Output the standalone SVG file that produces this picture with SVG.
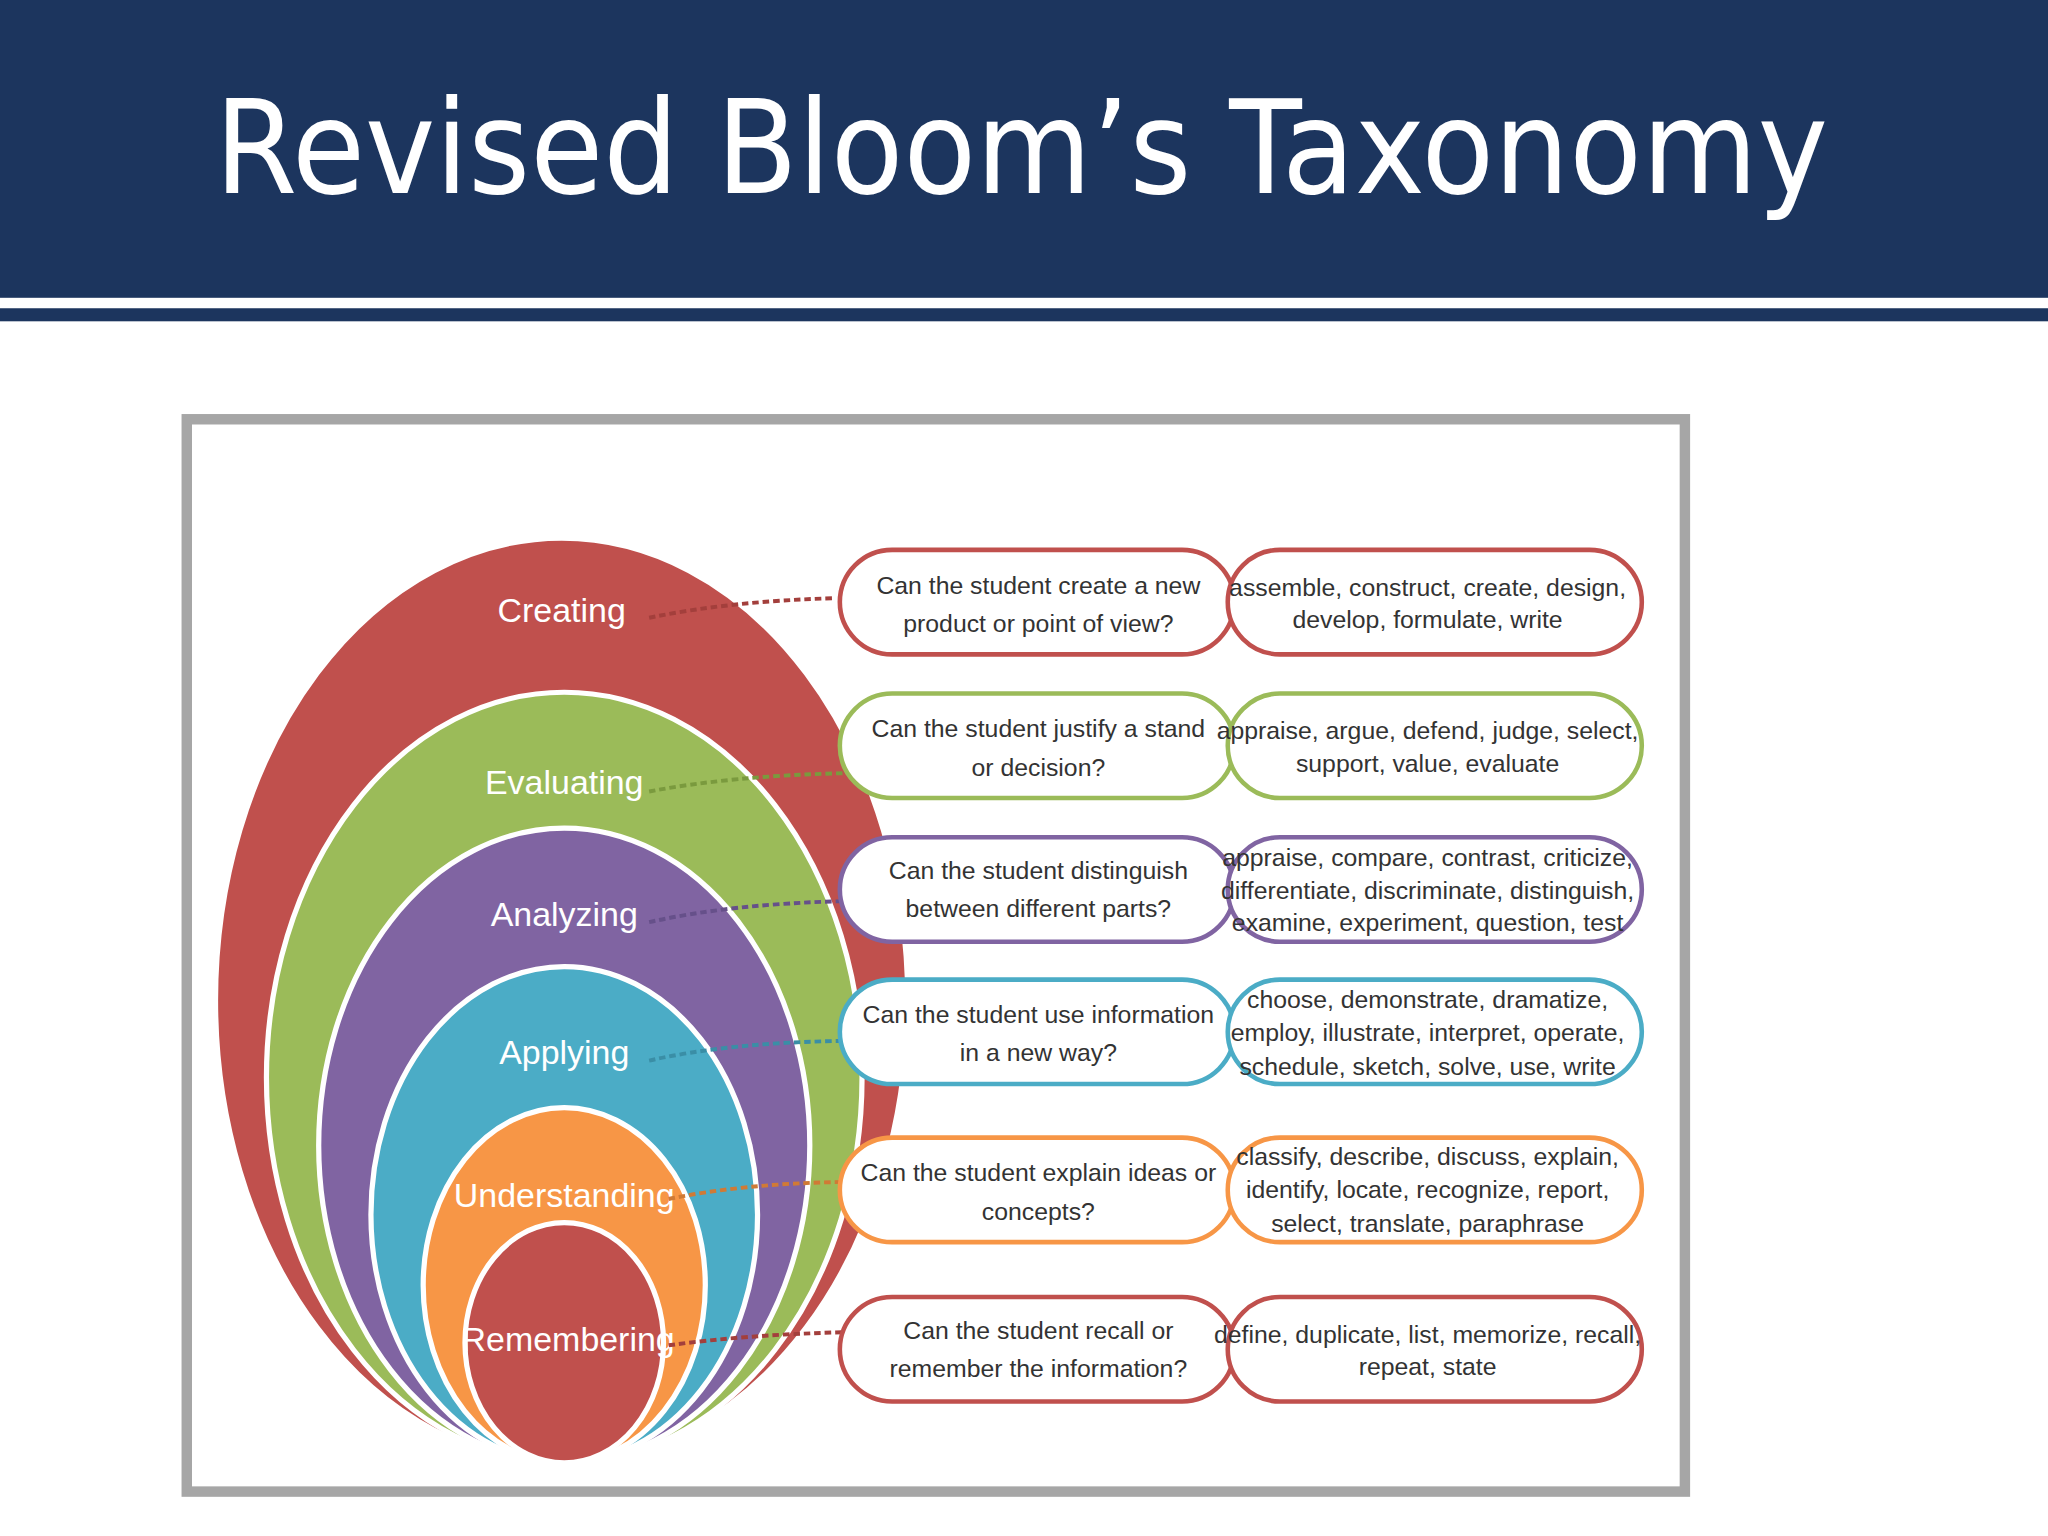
<svg xmlns="http://www.w3.org/2000/svg" width="2048" height="1536" viewBox="0 0 2048 1536">
<style>
.lbl{font-family:"Liberation Sans",Arial,sans-serif;font-size:26px;fill:#fff;text-anchor:middle}
.t{font-family:"Liberation Sans",Arial,sans-serif;font-size:19px;fill:#333;text-anchor:middle}
.box{fill:#fff;stroke-width:3.5}
.ell{stroke:#fff;stroke-width:4}
.dash{fill:none;stroke-width:3;stroke-dasharray:5 3}
</style>
<rect width="2048" height="1536" fill="#fff"/>
<g transform="scale(1.30612)">
<g id="header">
<rect x="0" y="0" width="1568" height="228" fill="#1c355e"/>
<rect x="0" y="236" width="1568" height="10" fill="#1c355e"/>
<text x="782" y="148" font-family="DejaVu Sans,sans-serif" font-size="100" fill="#fff" text-anchor="middle" textLength="1235" lengthAdjust="spacingAndGlyphs">Revised Bloom’s Taxonomy</text>
</g>
<g id="frame">
<rect x="143" y="321" width="1147" height="821" fill="#fff" stroke="#a6a6a6" stroke-width="8"/>
</g>
<g id="ellipses">
<ellipse class="ell" cx="430" cy="766" rx="265" ry="354" fill="#c0504d"/>
<ellipse class="ell" cx="432" cy="825" rx="228" ry="295" fill="#9bbb59"/>
<ellipse class="ell" cx="432" cy="877" rx="188" ry="243" fill="#8064a2"/>
<ellipse class="ell" cx="432" cy="930" rx="148" ry="190" fill="#4bacc6"/>
<ellipse class="ell" cx="432" cy="984" rx="108" ry="136" fill="#f79646"/>
<ellipse class="ell" cx="432" cy="1028" rx="76" ry="92" fill="#c0504d"/>
<text class="lbl" x="430" y="476">Creating</text>
<text class="lbl" x="432" y="608">Evaluating</text>
<text class="lbl" x="432" y="709">Analyzing</text>
<text class="lbl" x="432" y="815">Applying</text>
<text class="lbl" x="432" y="924">Understanding</text>
<text class="lbl" x="435" y="1034">Remembering</text>
</g>
<g id="connectors">
<path class="dash" stroke="#a33f3c" d="M497 473 Q560 460 640 458"/>
<path class="dash" stroke="#7a9a3e" d="M497 606 Q560 594 645 592"/>
<path class="dash" stroke="#66508a" d="M497 706 Q560 692 645 690"/>
<path class="dash" stroke="#3a8ea6" d="M497 812 Q560 798 645 797"/>
<path class="dash" stroke="#d07a35" d="M512 918 Q570 906 645 905"/>
<path class="dash" stroke="#a33f3c" d="M512 1030 Q570 1022 645 1020"/>
</g>
<g id="row1">
<rect class="box" stroke="#c0504d" x="643" y="421" width="302" height="80" rx="40"/>
<rect class="box" stroke="#c0504d" x="940" y="421" width="317" height="80" rx="40"/>
<text class="t" x="795" y="455">Can the student create a new</text>
<text class="t" x="795" y="484">product or point of view?</text>
<text class="t" x="1093" y="456">assemble, construct, create, design,</text>
<text class="t" x="1093" y="481">develop, formulate, write</text>
</g>
<g id="row2">
<rect class="box" stroke="#9bbb59" x="643" y="531" width="302" height="80" rx="40"/>
<rect class="box" stroke="#9bbb59" x="940" y="531" width="317" height="80" rx="40"/>
<text class="t" x="795" y="564">Can the student justify a stand</text>
<text class="t" x="795" y="594">or decision?</text>
<text class="t" x="1093" y="566">appraise, argue, defend, judge, select,</text>
<text class="t" x="1093" y="591">support, value, evaluate</text>
</g>
<g id="row3">
<rect class="box" stroke="#8064a2" x="643" y="641" width="302" height="80" rx="40"/>
<rect class="box" stroke="#8064a2" x="940" y="641" width="317" height="80" rx="40"/>
<text class="t" x="795" y="673">Can the student distinguish</text>
<text class="t" x="795" y="702">between different parts?</text>
<text class="t" x="1093" y="663">appraise, compare, contrast, criticize,</text>
<text class="t" x="1093" y="688">differentiate, discriminate, distinguish,</text>
<text class="t" x="1093" y="713">examine, experiment, question, test</text>
</g>
<g id="row4">
<rect class="box" stroke="#4bacc6" x="643" y="750" width="302" height="80" rx="40"/>
<rect class="box" stroke="#4bacc6" x="940" y="750" width="317" height="80" rx="40"/>
<text class="t" x="795" y="783">Can the student use information</text>
<text class="t" x="795" y="812">in a new way?</text>
<text class="t" x="1093" y="772">choose, demonstrate, dramatize,</text>
<text class="t" x="1093" y="797">employ, illustrate, interpret, operate,</text>
<text class="t" x="1093" y="823">schedule, sketch, solve, use, write</text>
</g>
<g id="row5">
<rect class="box" stroke="#f79646" x="643" y="871" width="302" height="80" rx="40"/>
<rect class="box" stroke="#f79646" x="940" y="871" width="317" height="80" rx="40"/>
<text class="t" x="795" y="904">Can the student explain ideas or</text>
<text class="t" x="795" y="934">concepts?</text>
<text class="t" x="1093" y="892">classify, describe, discuss, explain,</text>
<text class="t" x="1093" y="917">identify, locate, recognize, report,</text>
<text class="t" x="1093" y="943">select, translate, paraphrase</text>
</g>
<g id="row6">
<rect class="box" stroke="#c0504d" x="643" y="993" width="302" height="80" rx="40"/>
<rect class="box" stroke="#c0504d" x="940" y="993" width="317" height="80" rx="40"/>
<text class="t" x="795" y="1025">Can the student recall or</text>
<text class="t" x="795" y="1054">remember the information?</text>
<text class="t" x="1093" y="1028">define, duplicate, list, memorize, recall,</text>
<text class="t" x="1093" y="1053">repeat, state</text>
</g>
</g>
</svg>
